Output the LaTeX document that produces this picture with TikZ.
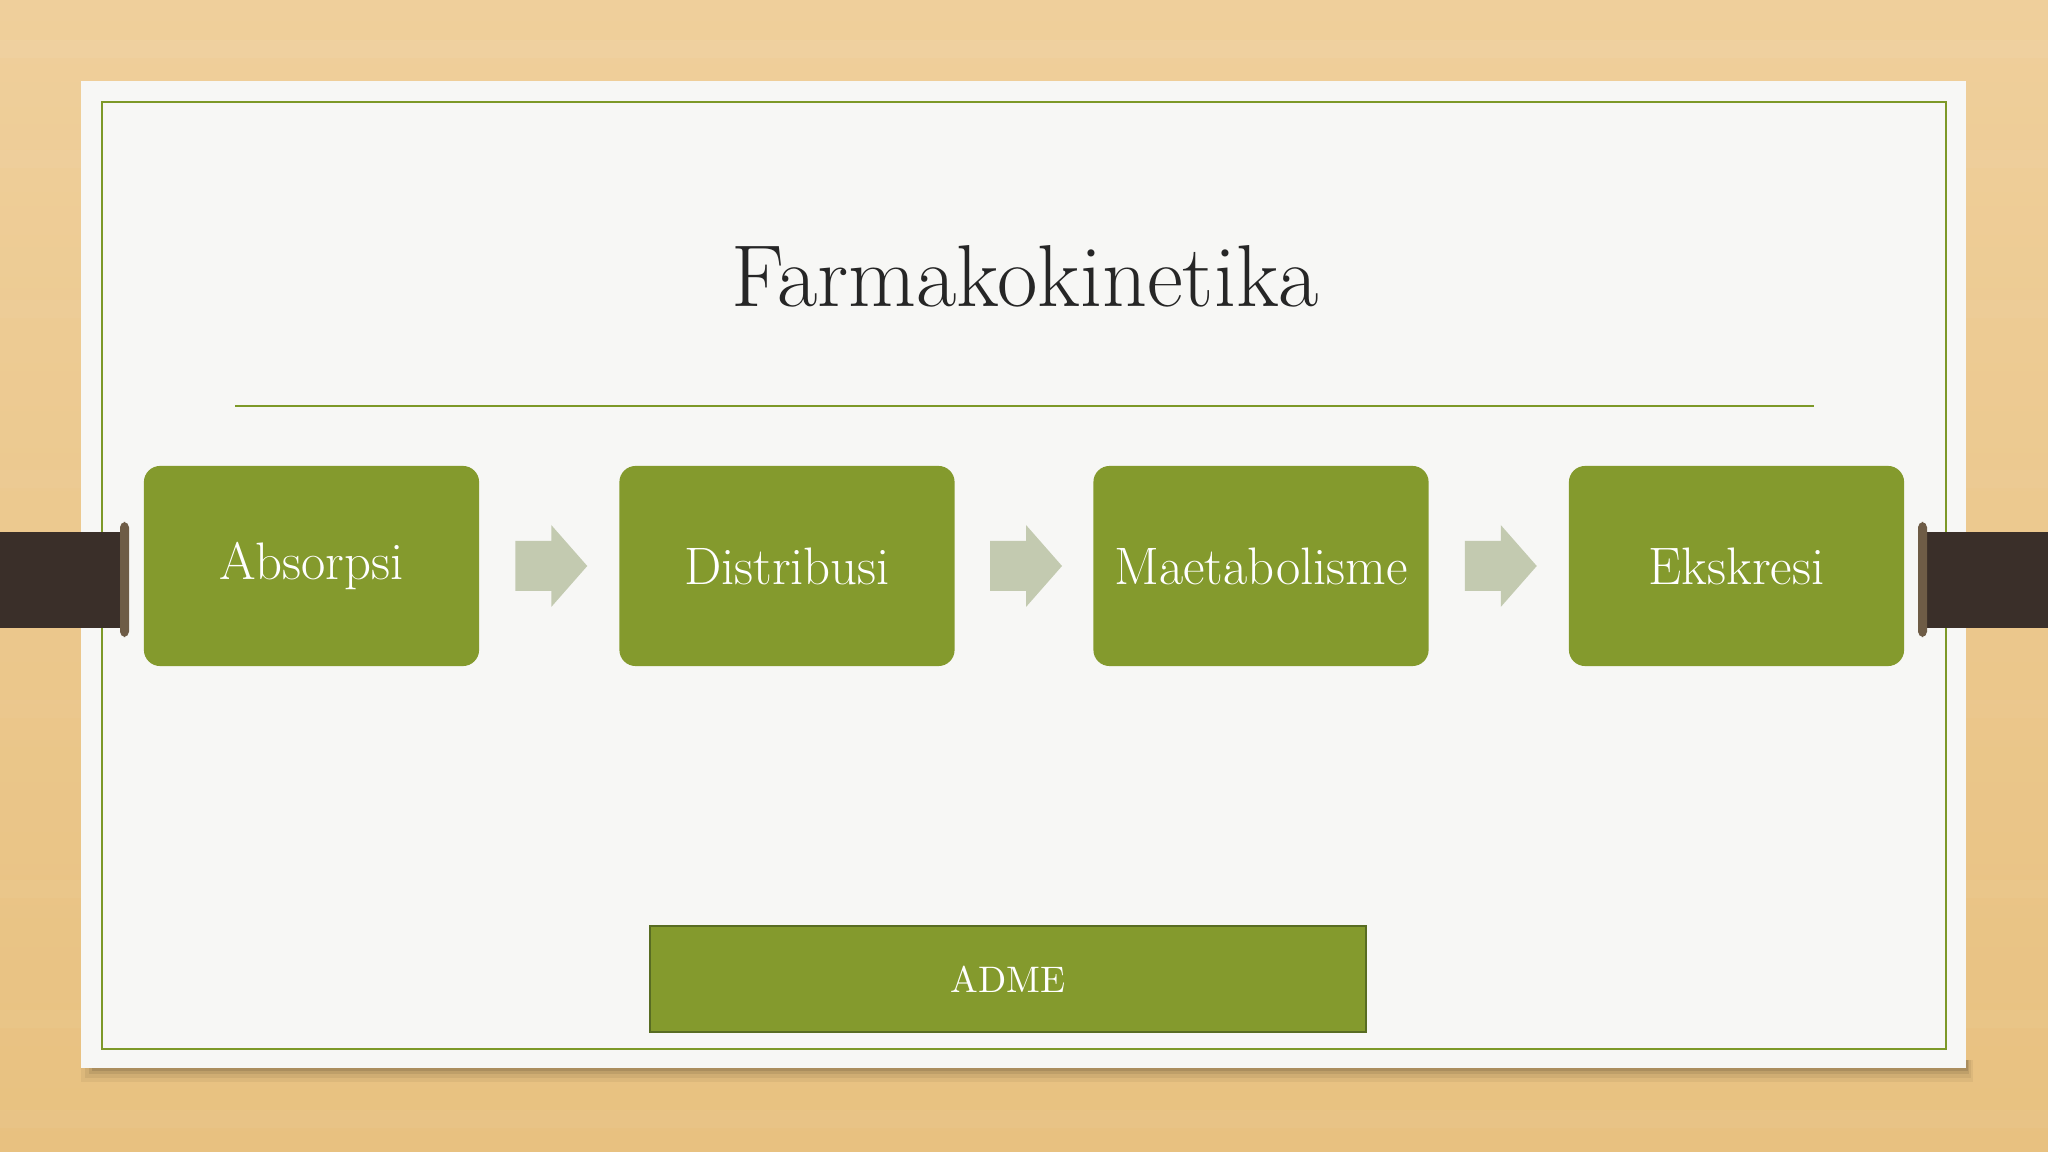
\documentclass[tikz,border=0pt]{standalone}
\usetikzlibrary{calc}
\definecolor{woodtop}{RGB}{239,207,155}
\definecolor{woodbot}{RGB}{232,193,128}
\definecolor{cardc}{RGB}{247,247,245}
\definecolor{leaf}{RGB}{132,154,45}
\definecolor{leafline}{RGB}{125,153,40}
\definecolor{leafdark}{RGB}{88,108,34}
\definecolor{arrowc}{RGB}{195,202,176}
\definecolor{bandc}{RGB}{58,47,41}
\definecolor{bandcap}{RGB}{110,92,70}
\definecolor{titlec}{RGB}{38,38,38}
\tikzset{
  stepbox/.style={fill=leaf, rounded corners=4.6pt, minimum width=3.35cm, minimum height=2cm, inner sep=0pt,
    text=white, font=\fontsize{15}{18}\selectfont},
  flowarrow/.style={fill=arrowc, draw=none},
  admebox/.style={fill=leaf, draw=leafdark, line width=0.7pt, minimum width=7.16cm, minimum height=1.06cm,
    inner sep=0pt, text=white, font=\fontsize{10.5}{12}\selectfont},
  titletext/.style={text=titlec, font=\fontsize{25}{30}\selectfont, inner sep=0pt, anchor=base}
}
\begin{document}
\begin{tikzpicture}[x=0.01cm,y=-0.01cm]
\useasboundingbox (0,0) rectangle (2048,1152);
% wood background
\shade[top color=woodtop, bottom color=woodbot] (0,0) rectangle (2048,1152);
\foreach \yy/\op in {40/0.05,150/0.04,300/0.03,470/0.035,700/0.03,880/0.04,1010/0.035,1110/0.045}{
  \fill[white,opacity=\op] (0,\yy) rectangle (2048,\yy+18);
}
% card shadow
\foreach \d/\op in {14/0.05,10/0.06,6/0.08,3/0.10}{
  \fill[black,opacity=\op] (95-\d,1060) rectangle (1966+\d/2,1068+\d);
}
% card
\fill[cardc] (81,81) rectangle (1966,1068);
\draw[leafline, line width=0.8pt] (102,102) rectangle (1946,1049);
% straps
\fill[bandc] (0,532) rectangle (126,628);
\fill[bandcap, rounded corners=1.5pt] (120,522) rectangle (129,637);
\fill[bandc] (1922,532) rectangle (2048,628);
\fill[bandcap, rounded corners=1.5pt] (1918,522) rectangle (1927,637);
% title
\node[titletext] (title) at (1025,307) {Farmakokinetika};
\draw[leafline, line width=0.7pt] (235,406) -- (1814,406);
% steps
\node[stepbox] (b1) at (311.5,566) {Absorpsi};
\node[stepbox] (b2) at (787,566) {Distribusi};
\node[stepbox] (b3) at (1261,566) {Maetabolisme};
\node[stepbox] (b4) at (1736.5,566) {Ekskresi};
\foreach \i/\j in {1/2,2/3,3/4}{
  \coordinate (a\i) at ($(b\i.east)!0.5!(b\j.west)+(2,0)$);
  \fill[flowarrow, shift={(a\i)}] (-36,-25) -- (0,-25) -- (0,-41) -- (36,0) -- (0,41) -- (0,25) -- (-36,25) -- cycle;
}
% ADME
\node[admebox] (adme) at (1008,979) {ADME};
\end{tikzpicture}
\end{document}
